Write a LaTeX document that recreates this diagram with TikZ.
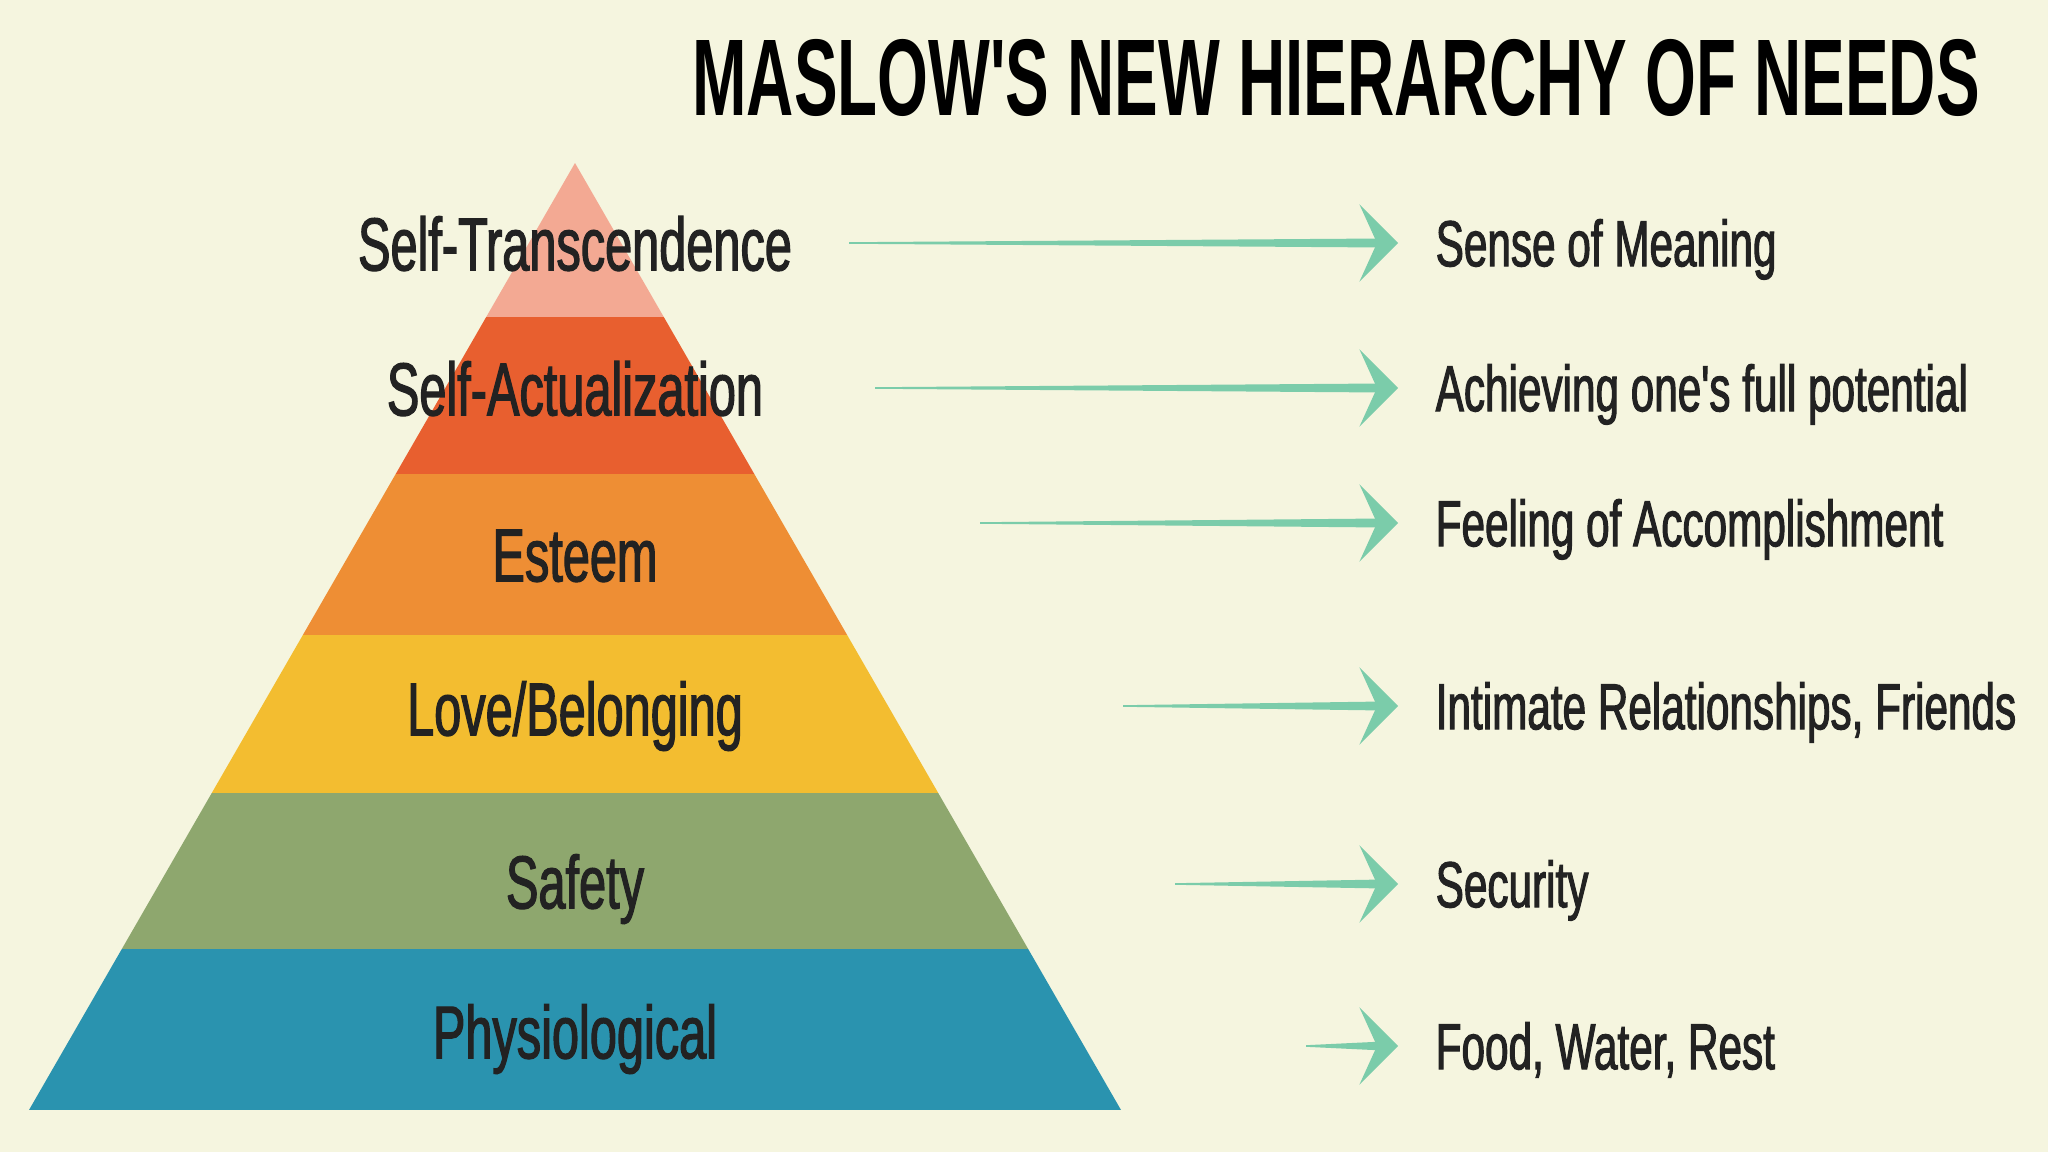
\documentclass[tikz,border=0pt]{standalone}
\usepackage{fontspec}
\usepackage{tikz}
\usetikzlibrary{arrows.meta}
\usetikzlibrary{calc}
\usepackage{xcolor}

\newfontfamily\needfont[FakeStretch=0.65,FakeBold=1.6]{Liberation Sans}
\newfontfamily\headfont[FakeStretch=0.6]{Liberation Sans}

\definecolor{paper}{HTML}{F5F5DF}
\definecolor{ink}{HTML}{222222}
\definecolor{mint}{HTML}{7BCCAA}
\definecolor{transc}{HTML}{F3A993}
\definecolor{actual}{HTML}{E85F2F}
\definecolor{esteem}{HTML}{EE8E34}
\definecolor{belong}{HTML}{F3BD30}
\definecolor{safety}{HTML}{8EA76E}
\definecolor{physio}{HTML}{2A93AF}

\tikzset{
  level/.style={font=\needfont\fontsize{21.3}{25}\selectfont, text=ink, inner sep=0pt, text height=15pt, text depth=0pt},
  need/.style={font=\needfont\fontsize{18.5}{22}\selectfont, text=ink, anchor=west, inner sep=0pt, text height=13.2pt, text depth=0pt},
  needarrow/.style={draw=mint, line width=0.4pt, -{Stealth[length=11pt,width=22pt,inset=5pt]}, shorten >=10.5pt},
}

\begin{document}
\begin{tikzpicture}[x=0.01cm, y=-0.01cm]
	    \fill[paper] (0,0) rectangle (2048,1152);
	    \useasboundingbox (0,0) rectangle (2048,1152);

	    % pyramid bands
	    \begin{scope}
	      \clip (575,163) -- (1121,1110) -- (29,1110) -- cycle;
	      \foreach \top/\bot/\col in {163/317/transc, 317/474/actual, 474/635/esteem, 635/793/belong, 793/949/safety, 949/1110/physio}
	        \fill[\col] (0,\top) rectangle (1200,\bot);
	    \end{scope}

	    \node(title) [font=\headfont\bfseries\fontsize{31}{36}\selectfont, text=black, inner sep=0pt] at (1336,78) {MASLOW'S NEW HIERARCHY OF NEEDS};

	    \node(transcend) [level] at (575,244)	{Self-Transcendence};
	    \node(actualize) [level] at (575,389)	{Self-Actualization};
	    \node(esteem)    [level] at (575,555)	{Esteem};
	    \node(love)      [level] at (575,709)	{Love/Belonging};
	    \node(safety)    [level] at (575,882)	{Safety};
	    \node(physio)    [level] at (575,1032)	{Physiological};

	    \node(meaning)  [need] at (1435,243)	{Sense of Meaning};
	    \node(potential)[need] at (1435,388)	{Achieving one's full potential};
	    \node(accompl)  [need] at (1435,523)	{Feeling of Accomplishment};
	    \node(friends)  [need] at (1435,706)	{Intimate Relationships, Friends};
	    \node(security) [need] at (1435,884)	{Security};
	    \node(food)     [need] at (1435,1046)	{Food, Water, Rest};

	    \coordinate (s1) at (849,243);
	    \coordinate (s2) at (875,388);
	    \coordinate (s3) at (980,523);
	    \coordinate (s4) at (1123,706);
	    \coordinate (s5) at (1175,884);
	    \coordinate (s6) at (1306,1046);

	    \foreach \s/\r in {s1/meaning, s2/potential, s3/accompl, s4/friends, s5/security, s6/food} {
	      \fill[mint] ($(\s)+(0,-0.8)$) -- ($(\r.west)+(-52,-4.5)$) -- ($(\r.west)+(-52,4.5)$) -- ($(\s)+(0,0.8)$) -- cycle;
	      \draw[needarrow] (\s) -- (\r);
	    }
	  \end{tikzpicture}
\end{document}
